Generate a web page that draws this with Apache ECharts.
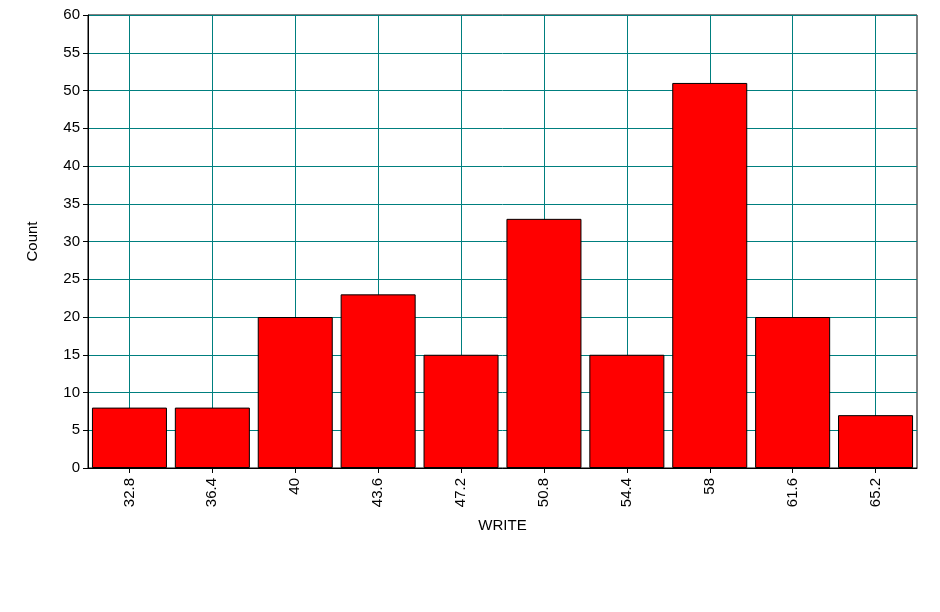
<!DOCTYPE html>
<html>
<head>
<meta charset="utf-8">
<script src="https://cdn.jsdelivr.net/npm/echarts@6/dist/echarts.min.js"></script>
<style>
html,body{margin:0;padding:0;background:#fff;}
#chart{width:940px;height:612px;}
</style>
</head>
<body>
<div id="chart"></div>
<script>
const categories = ['32.8','36.4','40','43.6','47.2','50.8','54.4','58','61.6','65.2'];
const counts = [8, 8, 20, 23, 15, 33, 15, 51, 20, 7];
const yTicks = {min: 0, max: 60, interval: 5};

const chart = echarts.init(document.getElementById('chart'), null, {renderer: 'canvas'});
const font = '"Liberation Sans", Arial, sans-serif';
chart.setOption({
  animation: false,
  backgroundColor: '#ffffff',
  grid: {left: 88, right: 23, top: 15, bottom: 144, show: true, borderColor: '#000', borderWidth: 1, backgroundColor: 'transparent'},
  xAxis: {
    type: 'category',
    data: categories,
    name: 'WRITE',
    nameLocation: 'middle',
    nameGap: 50,
    nameTextStyle: {color: '#000', fontSize: 15, fontFamily: font},
    axisLine: {show: true, lineStyle: {color: '#000', width: 1}},
    axisTick: {show: true, alignWithLabel: true, length: 5, lineStyle: {color: '#000'}},
    axisLabel: {rotate: 90, color: '#000', fontSize: 15, fontFamily: font, margin: 10, interval: 0},
    splitLine: {show: true, alignWithLabel: true, lineStyle: {color: '#007f7f', width: 1}}
  },
  yAxis: {
    type: 'value',
    min: yTicks.min, max: yTicks.max, interval: yTicks.interval,
    name: 'Count',
    nameLocation: 'middle',
    nameGap: 48,
    nameRotate: 90,
    nameTextStyle: {color: '#000', fontSize: 15, fontFamily: font},
    axisLine: {show: true, lineStyle: {color: '#000', width: 1}},
    axisTick: {show: true, length: 5, lineStyle: {color: '#000'}},
    axisLabel: {color: '#000', fontSize: 15, fontFamily: font, margin: 8},
    splitLine: {show: true, lineStyle: {color: '#007f7f', width: 1}}
  },
  series: [{
    type: 'bar',
    data: counts,
    barCategoryGap: '9.5%',
    itemStyle: {color: '#ff0000', borderColor: '#000', borderWidth: 1}
  }]
});
</script>
</body>
</html>
